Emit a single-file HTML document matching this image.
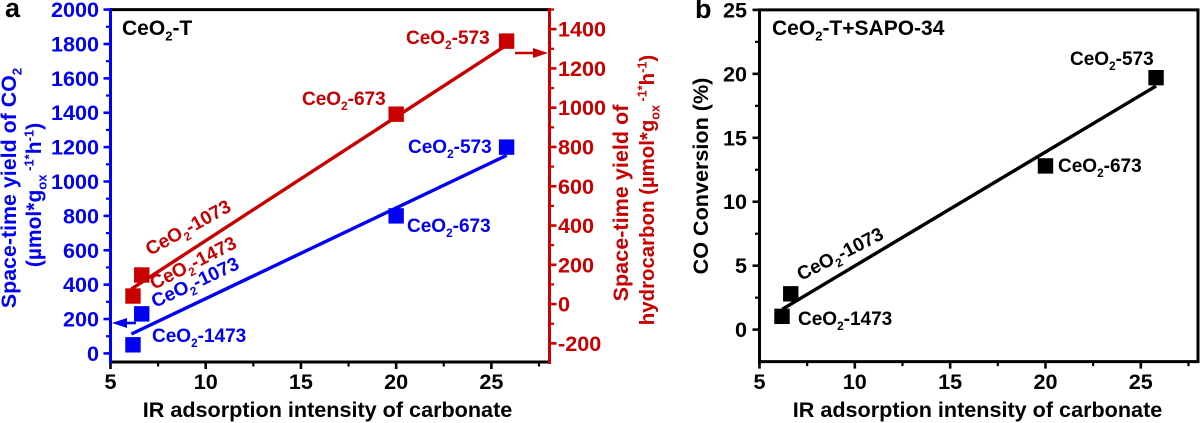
<!DOCTYPE html>
<html>
<head>
<meta charset="utf-8">
<style>
html,body{margin:0;padding:0;background:#fff;}
svg{display:block;font-family:"Liberation Sans",sans-serif;font-weight:bold;filter:blur(0.35px);}
</style>
</head>
<body>
<svg id="chart" width="1200" height="423" viewBox="0 0 1200 423" xmlns="http://www.w3.org/2000/svg"></svg>
<script>
// Panel a data
const intensityA = [6.18, 6.64, 20, 25.8];
const co2Yield = [50, 230, 800, 1200];
const hcYield = [41, 148, 967, 1339];
const co2FitX = [6.1, 25.8];
const co2FitY = [113, 1152];
const hcFitX = [6.1, 25.8];
const hcFitY = [77, 1319];
// Panel b data
const intensityB = [6.18, 6.64, 20, 25.8];
const coConversion = [1.04, 2.8, 12.8, 19.7];
const coFitX = [6.2, 25.8];
const coFitY = [1.6, 19.05];
// Ticks
const xTicks = [5, 10, 15, 20, 25];
const xMinor = [7.5, 12.5, 17.5, 22.5, 27.5];
const co2Ticks = [0, 200, 400, 600, 800, 1000, 1200, 1400, 1600, 1800, 2000];
const co2Minor = [100, 300, 500, 700, 900, 1100, 1300, 1500, 1700, 1900];
const hcTicks = [-200, 0, 200, 400, 600, 800, 1000, 1200, 1400];
const hcMinor = [-100, 100, 300, 500, 700, 900, 1100, 1300, 1500];
const coTicks = [0, 5, 10, 15, 20, 25];
const coMinor = [2.5, 7.5, 12.5, 17.5, 22.5];

const BLUE = '#0000f5', RED = '#c80000', BLACK = '#000';
const NS = 'http://www.w3.org/2000/svg';
const svg = document.getElementById('chart');

function linear(d0, d1, r0, r1) {
  return function (v) { return r0 + (v - d0) * (r1 - r0) / (d1 - d0); };
}
const xA = linear(5, 28, 110.5, 548.5);
const yCo2 = linear(-50, 2000, 362, 9.6);
const yHc = linear(-300, 1500, 363, 9.5);
const xB = linear(5, 28, 759.5, 1198);
const yCo = linear(-2.5, 25, 361.6, 9.9);

function el(tag, attrs, parent, name) {
  const e = document.createElementNS(NS, tag);
  for (const k in attrs) e.setAttribute(k, attrs[k]);
  
  
  (parent || svg).appendChild(e);
  return e;
}
function line(x1, y1, x2, y2, color, w, name, parent) {
  return el('line', { x1: x1, y1: y1, x2: x2, y2: y2, stroke: color, 'stroke-width': w }, parent, name);
}
// segs: [text, kind] where kind is '', 'sub' or 'sup'
function text(segs, x, y, size, color, opts, name) {
  opts = opts || {};
  const attrs = { x: x, y: y, 'font-size': size, fill: color };
  if (opts.anchor) attrs['text-anchor'] = opts.anchor;
  if (opts.rot !== undefined) attrs.transform = 'rotate(' + opts.rot + ' ' + x + ' ' + y + ')';
  const t = el('text', attrs, svg, name);
  let shift = 0;
  segs.forEach(function (s) {
    const ts = document.createElementNS(NS, 'tspan');
    const kind = s[1];
    const want = kind === 'sub' ? size * 0.26 : kind === 'sup' ? -size * 0.36 : 0;
    ts.setAttribute('dy', want - shift);
    shift = want;
    ts.setAttribute('font-size', kind ? size * 0.62 : size);
    ts.textContent = s[0];
    t.appendChild(ts);
  });
  return t;
}
function ceo(suffix) { return [['CeO', ''], ['2', 'sub'], suffix ? [suffix, ''] : ['', '']]; }

function square(cx, cy, color, name) {
  return el('rect', { x: cx - 7.7, y: cy - 7.7, width: 15.4, height: 15.4, fill: color }, svg, name);
}
function xAxis(scale, y, prefix) {
  xTicks.forEach(function (v) {
    line(scale(v), y, scale(v), y + 7, BLACK, 2.6, prefix + '-x-tick-' + v);
    text([[String(v), '']], scale(v), 389, 21.6, BLACK, { anchor: 'middle' }, prefix + '-x-tick-label-' + v);
  });
  xMinor.forEach(function (v) {
    line(scale(v), y, scale(v), y + 4.5, BLACK, 2.2, prefix + '-x-minor-tick-' + v);
  });
}
function yAxis(scale, ticks, minor, axisX, dir, color, labelX, anchor, prefix) {
  ticks.forEach(function (v) {
    line(axisX, scale(v), axisX + dir * 7, scale(v), color, 2.6, prefix + '-tick-' + v);
    text([[String(v), '']], labelX, scale(v) + 7.5, 21.6, color, { anchor: anchor }, prefix + '-tick-label-' + v);
  });
  minor.forEach(function (v) {
    line(axisX, scale(v), axisX + dir * 4.5, scale(v), color, 2.2, prefix + '-minor-tick-' + v);
  });
}

// ---------- Panel a ----------
text([['a', '']], 5, 17, 27, BLACK, {}, 'panel-a-letter');
line(109, 9.6, 550, 9.6, BLACK, 3, 'panel-a-top-border');
line(109, 362, 550, 362, BLACK, 3, 'panel-a-x-axis-line');
xAxis(xA, 362, 'panel-a');
line(110.5, 8, 110.5, 364, BLUE, 3, 'panel-a-left-axis-line');
line(549.5, 8, 549.5, 364, RED, 3, 'panel-a-right-axis-line');
yAxis(yCo2, co2Ticks, co2Minor, 110.5, -1, BLUE, 99, 'end', 'co2-y');
yAxis(yHc, hcTicks, hcMinor, 549.5, 1, RED, 558, 'start', 'hc-y');

line(xA(hcFitX[0]), yHc(hcFitY[0]), xA(hcFitX[1]), yHc(hcFitY[1]), RED, 3.4, 'hydrocarbon-fit-line');
line(xA(co2FitX[0]), yCo2(co2FitY[0]), xA(co2FitX[1]), yCo2(co2FitY[1]), BLUE, 3.4, 'co2-fit-line');
intensityA.forEach(function (v, i) {
  square(xA(v), yHc(hcYield[i]), RED, 'hydrocarbon-point-' + i);
  square(xA(v), yCo2(co2Yield[i]), BLUE, 'co2-point-' + i);
});

// arrows
line(136, 323, 120, 323, BLUE, 2.6, 'co2-axis-arrow-shaft');
el('polygon', { points: '112,323 127,318 127,328', fill: BLUE }, svg, 'co2-axis-arrow-head');
line(515, 53, 540, 53, RED, 2.6, 'hc-axis-arrow-shaft');
el('polygon', { points: '548,53 533,48 533,58', fill: RED }, svg, 'hc-axis-arrow-head');

const LABEL = 19;
text(ceo('-T'), 122, 35, 21, BLACK, {}, 'panel-a-title');
text(ceo('-573'), 406, 44, LABEL, RED, {}, 'label-red-573');
text(ceo('-673'), 302, 105, LABEL, RED, {}, 'label-red-673');
text(ceo('-1073'), 150, 256, LABEL, RED, { rot: -29 }, 'label-red-1073');
text(ceo('-1473'), 154, 290, LABEL, RED, { rot: -27 }, 'label-red-1473');
text(ceo('-573'), 408, 153, LABEL, BLUE, {}, 'label-blue-573');
text(ceo('-673'), 407, 232, LABEL, BLUE, {}, 'label-blue-673');
text(ceo('-1073'), 155, 308, LABEL, BLUE, { rot: -25 }, 'label-blue-1073');
text(ceo('-1473'), 152, 342, LABEL, BLUE, {}, 'label-blue-1473');

text([['Space-time yield of CO', ''], ['2', 'sub']], 16, 188, 21.4, BLUE, { anchor: 'middle', rot: -90 }, 'co2-y-title-line-1');
text([['(µmol*g', ''], ['ox', 'sub'], [' -1*', 'sup'], ['h', ''], ['-1', 'sup'], [')', '']], 41, 195, 21, BLUE, { anchor: 'middle', rot: -90 }, 'co2-y-title-line-2');
text([['Space-time yield of', '']], 628, 203, 21.6, RED, { anchor: 'middle', rot: -90 }, 'hc-y-title-line-1');
text([['hydrocarbon (µmol*g', ''], ['ox', 'sub'], [' -1*', 'sup'], ['h', ''], ['-1', 'sup'], [')', '']], 654, 190, 20.4, RED, { anchor: 'middle', rot: -90 }, 'hc-y-title-line-2');
text([['IR adsorption intensity of carbonate', '']], 327.5, 417, 21.6, BLACK, { anchor: 'middle' }, 'panel-a-x-title');

// ---------- Panel b ----------
text([['b', '']], 695, 18, 27, BLACK, {}, 'panel-b-letter');
line(758, 9.9, 1199.5, 9.9, BLACK, 3, 'panel-b-top-border');
line(758, 361.6, 1199.5, 361.6, BLACK, 3, 'panel-b-x-axis-line');
line(1198, 8.5, 1198, 363, BLACK, 3, 'panel-b-right-border');
line(759.5, 8.5, 759.5, 364, BLACK, 3, 'panel-b-left-axis-line');
xAxis(xB, 361.6, 'panel-b');
yAxis(yCo, coTicks, coMinor, 759.5, -1, BLACK, 747, 'end', 'co-y');

line(xB(coFitX[0]), yCo(coFitY[0]), xB(coFitX[1]), yCo(coFitY[1]), BLACK, 3.4, 'co-fit-line');
intensityB.forEach(function (v, i) {
  square(xB(v), yCo(coConversion[i]), BLACK, 'co-point-' + i);
});

text(ceo('-T+SAPO-34'), 772, 35, 21, BLACK, {}, 'panel-b-title');
text(ceo('-573'), 1070, 65, LABEL, BLACK, {}, 'label-black-573');
text(ceo('-673'), 1058, 172, LABEL, BLACK, {}, 'label-black-673');
text(ceo('-1073'), 801, 281, LABEL, BLACK, { rot: -27 }, 'label-black-1073');
text(ceo('-1473'), 798, 325, LABEL, BLACK, {}, 'label-black-1473');
text([['CO Conversion (%)', '']], 708, 176, 21.6, BLACK, { anchor: 'middle', rot: -90 }, 'co-y-title');
text([['IR adsorption intensity of carbonate', '']], 977.5, 417, 21.6, BLACK, { anchor: 'middle' }, 'panel-b-x-title');
</script>
</body>
</html>
